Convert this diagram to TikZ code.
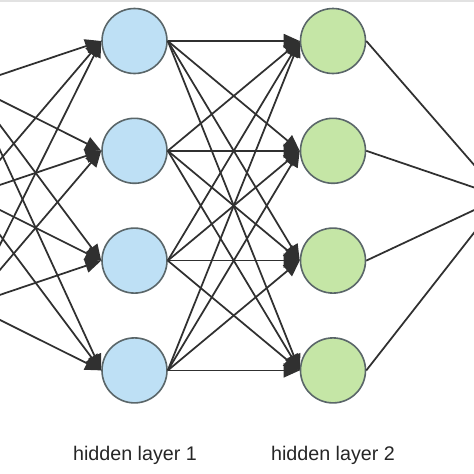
\documentclass[tikz,border=0pt]{standalone}
\usepackage{fontspec}
\setmainfont{Liberation Sans}
\usetikzlibrary{arrows.meta}
\definecolor{hblue}{HTML}{BEE0F5}
\definecolor{hgreen}{HTML}{C5E6A6}
\definecolor{nborder}{HTML}{5A6669}
\definecolor{edgecol}{HTML}{303030}
\definecolor{labelcol}{HTML}{262626}
\definecolor{bandcol}{HTML}{E2E2E2}
\begin{document}
\begin{tikzpicture}[x=1pt,y=-1pt,
  neuron/.style={circle,draw=nborder,line width=1.6pt,minimum size=65pt,inner sep=0pt},
  hone/.style={neuron,fill=hblue},
  htwo/.style={neuron,fill=hgreen},
  conn/.style={draw=edgecol,line width=1.75pt,-{Triangle[length=16pt,width=14pt]}},
  lbl/.style={font=\fontsize{19.7}{22}\selectfont,text=labelcol,anchor=base}]
\useasboundingbox (0,0) rectangle (474,474);
\fill[white] (0,0) rectangle (474,474);
\fill[bandcol] (0,0) rectangle (474,2);
% off-picture ends (input layer and output)
\coordinate (in1) at (-30,85);
\coordinate (in2) at (-30,195);
\coordinate (in3) at (-30,305);
\coordinate (out) at (502,197);
% hidden layers
\foreach \j/\y in {1/41,2/150.8,3/260.6,4/370.4}{
  \node[hone] (a\j) at (134.5,\y) {};
  \node[htwo] (b\j) at (333,\y) {};
}
% connectors
\foreach \i in {1,2,3}{
  \foreach \j in {1,2,3,4}{
    \draw[conn] (in\i) -- (a\j.west);
  }
}
\foreach \i in {1,2,3,4}{
  \foreach \j in {1,2,3,4}{
    \draw[conn] (a\i.east) -- (b\j.west);
  }
  \draw[conn] (b\i.east) -- (out);
}
\node[lbl] (l1) at (135,460) {hidden layer 1};
\node[lbl] (l2) at (333,460) {hidden layer 2};
\end{tikzpicture}
\end{document}
